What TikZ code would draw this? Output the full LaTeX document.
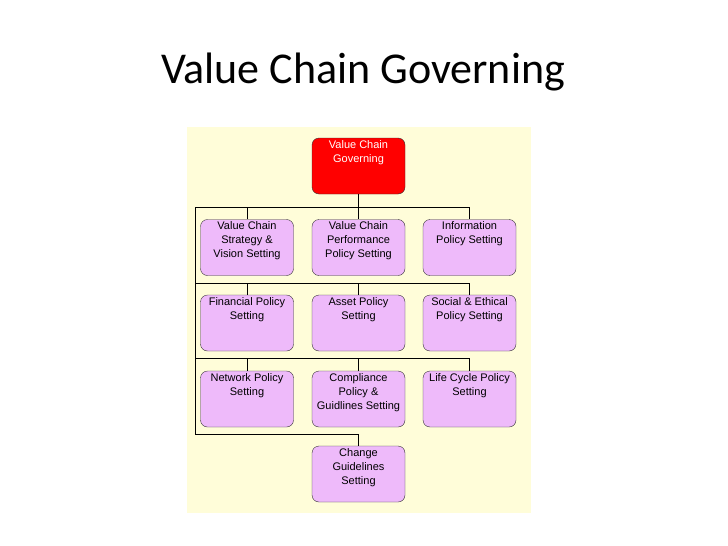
\documentclass[tikz,border=0pt]{standalone}
\usepackage{fontspec}
\setmainfont{Liberation Sans}
\newfontfamily\titlefont{Carlito}
\begin{document}
\begin{tikzpicture}[x=1pt,y=-1pt,
  bx/.style={draw=black!80,fill={rgb,255:red,238;green,186;blue,250},rounded corners=7pt,minimum width=93pt,minimum height=56pt,inner sep=0pt},
  bt/.style={font=\fontsize{11}{13.8}\selectfont,align=center,anchor=north,yshift=-1.5pt,inner sep=1pt},
  ln/.style={draw=black,line width=0.8pt}]
\useasboundingbox (0,0) rectangle (728,546);
\fill[fill=white] (0,0) rectangle (728,546);
\fill[yellow!15!white] (187,127) rectangle (531,513);
\node[font=\titlefont\fontsize{44}{48}\selectfont,anchor=base] (title) at (363,83) {Value Chain Governing};
\node[bx,fill=red,label={[bt,text=white]north:Value Chain\\Governing}] (top) at (358.5,166) {};
\node[bx,label={[bt]north:Value Chain\\Strategy \&\\Vision Setting}] (a1) at (247,247.5) {};
\node[bx,label={[bt]north:Value Chain\\Performance\\Policy Setting}] (a2) at (358.5,247.5) {};
\node[bx,label={[bt]north:Information\\Policy Setting}] (a3) at (469.5,247.5) {};
\node[bx,label={[bt]north:Financial Policy\\Setting}] (b1) at (247,323) {};
\node[bx,label={[bt]north:Asset Policy\\Setting}] (b2) at (358.5,323) {};
\node[bx,label={[bt]north:Social \& Ethical\\Policy Setting}] (b3) at (469.5,323) {};
\node[bx,label={[bt]north:Network Policy\\Setting}] (c1) at (247,399) {};
\node[bx,label={[bt]north:Compliance\\Policy \&\\Guidlines Setting}] (c2) at (358.5,399) {};
\node[bx,label={[bt]north:Life Cycle Policy\\Setting}] (c3) at (469.5,399) {};
\node[bx,label={[bt]north:Change\\Guidelines\\Setting}] (d2) at (358.5,474) {};
\coordinate (L1) at (195,207);
\coordinate (L2) at (195,283);
\coordinate (L3) at (195,358);
\coordinate (L4) at (195,434);
\draw[ln] (top.south) |- (L1) -- (L4) -| (d2.north);
\draw[ln] (L1) -| (a3.north);
\draw[ln] (top.south) -- (a2.north);
\draw[ln] (a1.north) -- (a1.north |- L1);
\draw[ln] (L2) -| (b3.north);
\draw[ln] (b1.north) -- (b1.north |- L2);
\draw[ln] (b2.north) -- (b2.north |- L2);
\draw[ln] (L3) -| (c3.north);
\draw[ln] (c1.north) -- (c1.north |- L3);
\draw[ln] (c2.north) -- (c2.north |- L3);
\end{tikzpicture}
\end{document}
